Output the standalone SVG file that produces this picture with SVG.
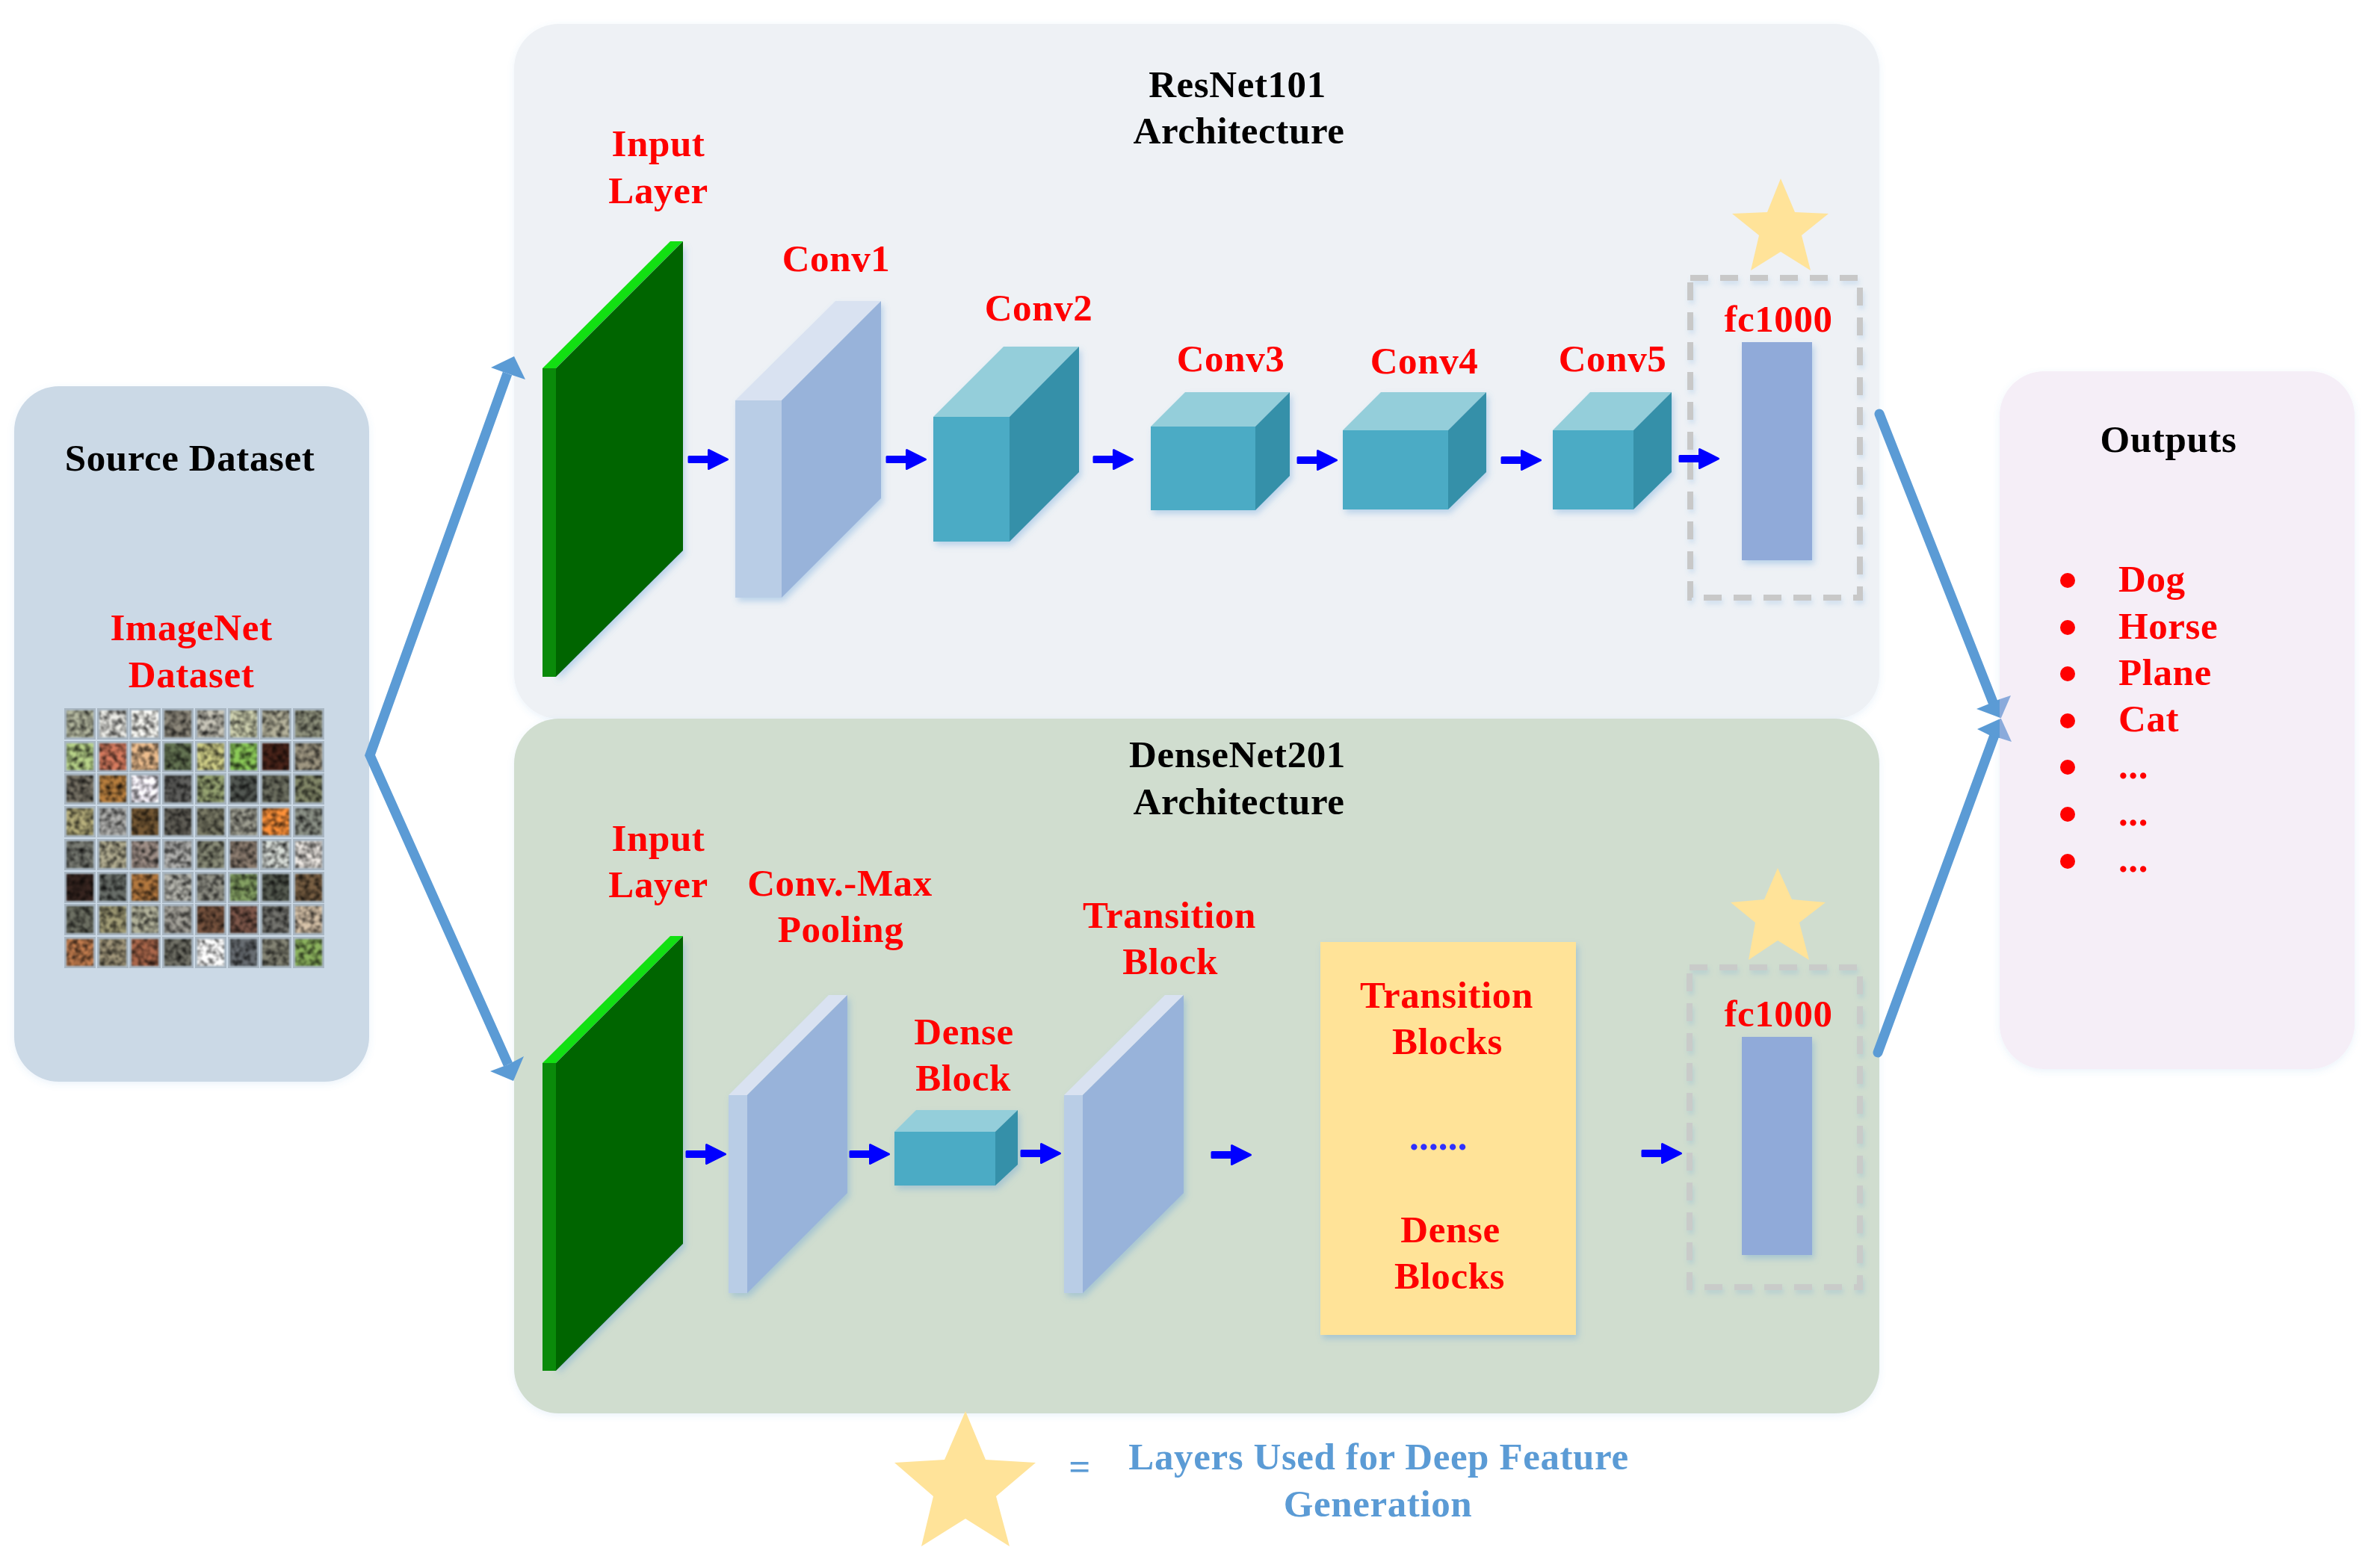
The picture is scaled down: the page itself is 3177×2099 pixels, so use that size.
<svg xmlns="http://www.w3.org/2000/svg" width="3177" height="2099" viewBox="0 0 3177 2099">
<style>
text{font-family:"Liberation Serif","Times New Roman",serif;font-weight:bold;font-size:51px;letter-spacing:.6px}
.r{fill:#ff0000}.k{fill:#000}.m{text-anchor:middle}
.pf{fill:#b9cde6}.ps{fill:#98b3da}.pt{fill:#d9e2f1}
.cf{fill:#4babc5}.cs{fill:#3590a9}.ct{fill:#94ceda}
.gf{fill:#0a8a0a}.gs{fill:#056505}.gt{fill:#12e012}
.star{fill:#ffe399}
.fc{fill:#90aad9}
.dash{fill:none;stroke:#c8c8c8;stroke-width:8;stroke-dasharray:24 16}
.big{fill:none;stroke:#5b9bd5;stroke-width:13;stroke-linecap:round;stroke-linejoin:miter}
.hd{fill:#5b9bd5}
.hl{fill:#8aaadb}
.ar{fill:#0000ff;stroke:#0000ff;stroke-width:3;stroke-linejoin:round}
.b{fill:#ff0000}
</style>
<defs>
<filter id="sh" x="-20%" y="-20%" width="150%" height="150%"><feDropShadow dx="3" dy="5" stdDeviation="4" flood-color="#5b9bd5" flood-opacity="0.35"/></filter>
<filter id="shd" x="-10%" y="-10%" width="125%" height="125%"><feDropShadow dx="2" dy="5" stdDeviation="3" flood-color="#5b9bd5" flood-opacity="0.2"/></filter>
<filter id="psh" x="-5%" y="-5%" width="110%" height="110%"><feDropShadow dx="0" dy="3" stdDeviation="5" flood-color="#5b9bd5" flood-opacity="0.12"/></filter>
<filter id="mos" x="-2%" y="-2%" width="104%" height="104%" color-interpolation-filters="sRGB">
<feTurbulence type="fractalNoise" baseFrequency="0.14" numOctaves="2" seed="7" result="n"/>
<feColorMatrix in="n" type="matrix" values="1.7 0 0 0 -0.1 1.7 0 0 0 -0.1 1.7 0 0 0 -0.1 0 0 0 0 1" result="g"/>
<feComposite in="SourceGraphic" in2="g" operator="arithmetic" k1="1.3" k2="0" k3="0" k4="0" result="c"/>
<feComposite in="c" in2="SourceAlpha" operator="in" result="d"/>
<feGaussianBlur in="d" stdDeviation="0.8" result="e"/>
<feMorphology in="SourceAlpha" operator="dilate" radius="3" result="m"/>
<feFlood flood-color="#8e9aa6" flood-opacity="0.55"/>
<feComposite in2="m" operator="in" result="h"/>
<feMerge><feMergeNode in="h"/><feMergeNode in="e"/></feMerge>
</filter>
<path id="arw" class="ar" d="M2 -3.5H28.5V-12.5L53.5 0L28.5 12.5V3.5H2Z"/>
</defs>

<g id="panel-source"><rect x="19" y="517" width="475" height="931" rx="60" fill="#cbd9e6" filter="url(#psh)"/></g>
<g id="panel-resnet"><rect x="688" y="32" width="1827" height="930" rx="60" fill="#eef1f5" filter="url(#psh)"/></g>
<g id="panel-densenet"><rect x="688" y="962" width="1827" height="930" rx="60" fill="#d0ddcf" filter="url(#psh)"/></g>
<g id="panel-outputs"><rect x="2676" y="497" width="475" height="934" rx="60" fill="#f5eef7" filter="url(#psh)"/></g>

<g id="source-dataset">
<text class="k m" x="254" y="630">Source Dataset</text>
<text class="r m" x="256" y="857">ImageNet</text>
<text class="r m" x="256" y="920">Dataset</text>
</g>
<g id="imagenet-grid">
<g filter="url(#mos)">
<rect x="89" y="951" width="36" height="36" fill="#8c8f7c"/><rect x="133" y="951" width="36" height="36" fill="#b8b8b4"/><rect x="176" y="951" width="36" height="36" fill="#c6c6c2"/><rect x="220" y="951" width="36" height="36" fill="#6e6a60"/><rect x="264" y="951" width="36" height="36" fill="#9c9a90"/><rect x="308" y="951" width="36" height="36" fill="#a2a48a"/><rect x="351" y="951" width="36" height="36" fill="#8c8a78"/><rect x="395" y="951" width="36" height="36" fill="#6e7060"/>
<rect x="89" y="995" width="36" height="36" fill="#8ea36a"/><rect x="133" y="995" width="36" height="36" fill="#a8604a"/><rect x="176" y="995" width="36" height="36" fill="#b8936e"/><rect x="220" y="995" width="36" height="36" fill="#4e5a40"/><rect x="264" y="995" width="36" height="36" fill="#a3a26a"/><rect x="308" y="995" width="36" height="36" fill="#6c9c44"/><rect x="351" y="995" width="36" height="36" fill="#3a1c14"/><rect x="395" y="995" width="36" height="36" fill="#7a7464"/>
<rect x="89" y="1038" width="36" height="36" fill="#5e5a50"/><rect x="133" y="1038" width="36" height="36" fill="#8e6230"/><rect x="176" y="1038" width="36" height="36" fill="#c8c4cc"/><rect x="220" y="1038" width="36" height="36" fill="#4a4a48"/><rect x="264" y="1038" width="36" height="36" fill="#747e58"/><rect x="308" y="1038" width="36" height="36" fill="#404440"/><rect x="351" y="1038" width="36" height="36" fill="#56584c"/><rect x="395" y="1038" width="36" height="36" fill="#646850"/>
<rect x="89" y="1082" width="36" height="36" fill="#8e8860"/><rect x="133" y="1082" width="36" height="36" fill="#8a8a88"/><rect x="176" y="1082" width="36" height="36" fill="#5a4428"/><rect x="220" y="1082" width="36" height="36" fill="#4a4842"/><rect x="264" y="1082" width="36" height="36" fill="#5e5e4e"/><rect x="308" y="1082" width="36" height="36" fill="#7a7a70"/><rect x="351" y="1082" width="36" height="36" fill="#c4702c"/><rect x="395" y="1082" width="36" height="36" fill="#6c7068"/>
<rect x="89" y="1126" width="36" height="36" fill="#5c5e58"/><rect x="133" y="1126" width="36" height="36" fill="#8a8670"/><rect x="176" y="1126" width="36" height="36" fill="#7a6e68"/><rect x="220" y="1126" width="36" height="36" fill="#8a8a88"/><rect x="264" y="1126" width="36" height="36" fill="#6a6c5c"/><rect x="308" y="1126" width="36" height="36" fill="#6e6258"/><rect x="351" y="1126" width="36" height="36" fill="#a8aca8"/><rect x="395" y="1126" width="36" height="36" fill="#b8b4b0"/>
<rect x="89" y="1170" width="36" height="36" fill="#2a1c18"/><rect x="133" y="1170" width="36" height="36" fill="#505450"/><rect x="176" y="1170" width="36" height="36" fill="#8a5c30"/><rect x="220" y="1170" width="36" height="36" fill="#8e8e88"/><rect x="264" y="1170" width="36" height="36" fill="#707068"/><rect x="308" y="1170" width="36" height="36" fill="#667c4c"/><rect x="351" y="1170" width="36" height="36" fill="#42463e"/><rect x="395" y="1170" width="36" height="36" fill="#5e4a34"/>
<rect x="89" y="1213" width="36" height="36" fill="#54564c"/><rect x="133" y="1213" width="36" height="36" fill="#7e7a5c"/><rect x="176" y="1213" width="36" height="36" fill="#8a8a78"/><rect x="220" y="1213" width="36" height="36" fill="#807e78"/><rect x="264" y="1213" width="36" height="36" fill="#5c4030"/><rect x="308" y="1213" width="36" height="36" fill="#62443a"/><rect x="351" y="1213" width="36" height="36" fill="#5a5a56"/><rect x="395" y="1213" width="36" height="36" fill="#a89884"/>
<rect x="89" y="1257" width="36" height="36" fill="#96603c"/><rect x="133" y="1257" width="36" height="36" fill="#7e7660"/><rect x="176" y="1257" width="36" height="36" fill="#84503a"/><rect x="220" y="1257" width="36" height="36" fill="#585850"/><rect x="264" y="1257" width="36" height="36" fill="#dcdcdc"/><rect x="308" y="1257" width="36" height="36" fill="#505458"/><rect x="351" y="1257" width="36" height="36" fill="#66665a"/><rect x="395" y="1257" width="36" height="36" fill="#6c8a48"/>
</g>
</g>

<g id="connectors">
<path class="big" style="stroke-linecap:butt" d="M679 500L495 1011L680 1425"/>
<polygon class="hd" points="688,477 703,508 679,500 657,492"/>
<polygon class="hd" points="687,1447 656,1434 680,1425 701,1414"/>
<path class="big" d="M2515 554L2667 940"/>
<polygon class="hd" points="2677,961 2645,949 2667,940 2676,936 2676,957"/>
<polygon class="hl" points="2676,936 2691,931 2678,961 2676,961"/>
<path class="big" d="M2513 1409L2668 987"/>
<polygon class="hd" points="2677,962 2646,976 2668,987 2676,988 2676,962"/>
<polygon class="hl" points="2676,962 2678,962 2692,993 2676,988"/>
</g>

<g id="res-input"><polygon class="gt" points="726,493 897,323 914,323 744,493"/><g filter="url(#sh)"><polygon class="gs" points="744,493 914,323 914,737 744,906"/></g><rect class="gf" x="726" y="493" width="18" height="413"/>
<text class="r m" x="881" y="209">Input</text><text class="r m" x="881" y="272">Layer</text></g>
<g id="res-conv1" filter="url(#sh)"><polygon class="pt" points="984,536 1118,403 1179,403 1046,536"/><polygon class="ps" points="1046,536 1179,403 1179,667 1046,800"/><rect class="pf" x="984" y="536" width="62" height="264"/></g>
<text class="r m" x="1119" y="363">Conv1</text>
<g id="res-conv2" filter="url(#sh)"><polygon class="ct" points="1249,558 1343,464 1444,464 1351,558"/><polygon class="cs" points="1351,558 1444,464 1444,632 1351,725"/><rect class="cf" x="1249" y="558" width="102" height="167"/></g>
<text class="r m" x="1390" y="429">Conv2</text>
<g id="res-conv3" filter="url(#sh)"><polygon class="ct" points="1540,571 1586,525 1726,525 1680,571"/><polygon class="cs" points="1680,571 1726,525 1726,637 1680,683"/><rect class="cf" x="1540" y="571" width="140" height="112"/></g>
<text class="r m" x="1647" y="497">Conv3</text>
<g id="res-conv4" filter="url(#sh)"><polygon class="ct" points="1797,576 1848,525 1989,525 1938,576"/><polygon class="cs" points="1938,576 1989,525 1989,632 1938,682"/><rect class="cf" x="1797" y="576" width="141" height="106"/></g>
<text class="r m" x="1906" y="500">Conv4</text>
<g id="res-conv5" filter="url(#sh)"><polygon class="ct" points="2078,576 2128,525 2237,525 2186,576"/><polygon class="cs" points="2186,576 2237,525 2237,632 2186,682"/><rect class="cf" x="2078" y="576" width="108" height="106"/></g>
<text class="r m" x="2158" y="497">Conv5</text>
<g id="res-fc"><rect class="dash" x="2262" y="372" width="227" height="428" filter="url(#shd)"/><rect class="fc" x="2331" y="458" width="94" height="292" filter="url(#sh)"/><text class="r m" x="2380" y="444">fc1000</text>
<polygon class="star" points="2383,239 2402,284 2447,286 2411,315 2423,362 2383,337 2343,362 2354,315 2318,286 2365,284"/></g>
<g id="res-title"><text class="k m" x="1656" y="130">ResNet101</text><text class="k m" x="1658" y="192">Architecture</text></g>

<g id="arrows-res">
<use href="#arw" x="920" y="615"/><use href="#arw" x="1185" y="615"/><use href="#arw" x="1462" y="615"/><use href="#arw" x="1735" y="616"/><use href="#arw" x="2008" y="616"/><use href="#arw" x="2246" y="614"/>
</g>

<g id="den-input"><polygon class="gt" points="726,1423 897,1253 914,1253 744,1423"/><g filter="url(#sh)"><polygon class="gs" points="744,1423 914,1253 914,1665 744,1835"/></g><rect class="gf" x="726" y="1423" width="18" height="412"/>
<text class="r m" x="881" y="1139">Input</text><text class="r m" x="881" y="1201">Layer</text></g>
<g id="den-pool" filter="url(#sh)"><polygon class="pt" points="975,1466 1109,1332 1134,1332 1000,1466"/><polygon class="ps" points="1000,1466 1134,1332 1134,1597 1000,1731"/><rect class="pf" x="975" y="1466" width="25" height="265"/></g>
<text class="r m" x="1124" y="1199">Conv.-Max</text><text class="r m" x="1125" y="1261">Pooling</text>
<g id="den-dense" filter="url(#sh)"><polygon class="ct" points="1197,1515 1226,1486 1362,1486 1332,1515"/><polygon class="cs" points="1332,1515 1362,1486 1362,1559 1332,1587"/><rect class="cf" x="1197" y="1515" width="135" height="72"/></g>
<text class="r m" x="1290" y="1398">Dense</text><text class="r m" x="1289" y="1460">Block</text>
<g id="den-trans" filter="url(#sh)"><polygon class="pt" points="1424,1466 1559,1332 1584,1332 1449,1466"/><polygon class="ps" points="1449,1466 1584,1332 1584,1597 1449,1731"/><rect class="pf" x="1424" y="1466" width="25" height="265"/></g>
<text class="r m" x="1565" y="1242">Transition</text><text class="r m" x="1566" y="1304">Block</text>
<g id="den-blocks"><rect x="1767" y="1261" width="342" height="526" fill="#ffe398" filter="url(#sh)"/>
<text class="r m" x="1936" y="1349">Transition</text><text class="r m" x="1937" y="1411">Blocks</text>
<text x="1886" y="1539" fill="#3030ff" style="letter-spacing:.2px">......</text>
<text class="r m" x="1941" y="1663">Dense</text><text class="r m" x="1940" y="1725">Blocks</text></g>
<g id="den-fc"><rect class="dash" x="2261" y="1295" width="228" height="428" filter="url(#shd)" style="stroke:#c9cbc9"/><rect class="fc" x="2331" y="1388" width="94" height="292" filter="url(#sh)"/><text class="r m" x="2380" y="1374">fc1000</text>
<polygon class="star" points="2379,1162 2398,1204 2443,1208 2408,1235 2421,1285 2379,1259 2340,1285 2349,1235 2316,1208 2361,1204"/></g>
<g id="den-title"><text class="k m" x="1656" y="1027">DenseNet201</text><text class="k m" x="1658" y="1090">Architecture</text></g>

<g id="arrows-den">
<use href="#arw" x="917" y="1545"/><use href="#arw" x="1136" y="1545"/><use href="#arw" x="1365" y="1544"/><use href="#arw" x="1620" y="1546"/><use href="#arw" x="2196" y="1544"/>
</g>

<g id="outputs">
<text class="k m" x="2902" y="605">Outputs</text>
<circle class="b" cx="2767" cy="777" r="10"/><circle class="b" cx="2767" cy="840" r="10"/><circle class="b" cx="2767" cy="902" r="10"/><circle class="b" cx="2767" cy="965" r="10"/><circle class="b" cx="2767" cy="1027" r="10"/><circle class="b" cx="2767" cy="1090" r="10"/><circle class="b" cx="2767" cy="1153" r="10"/>
<text class="r" x="2835" y="792">Dog</text><text class="r" x="2835" y="855">Horse</text><text class="r" x="2835" y="917">Plane</text><text class="r" x="2835" y="979">Cat</text><text class="r" x="2835" y="1042">...</text><text class="r" x="2835" y="1105">...</text><text class="r" x="2835" y="1167">...</text>
</g>

<g id="legend">
<polygon class="star" points="1292,1889 1319,1954 1386,1958 1333,2003 1351,2070 1292,2033 1233,2070 1249,2003 1197,1958 1264,1954"/>
<text x="1445" y="1980" class="m" fill="#5b9bd5">=</text>
<text class="m" x="1845" y="1967" fill="#5b9bd5">Layers Used for Deep Feature</text>
<text class="m" x="1844" y="2030" fill="#5b9bd5">Generation</text>
</g>
</svg>
